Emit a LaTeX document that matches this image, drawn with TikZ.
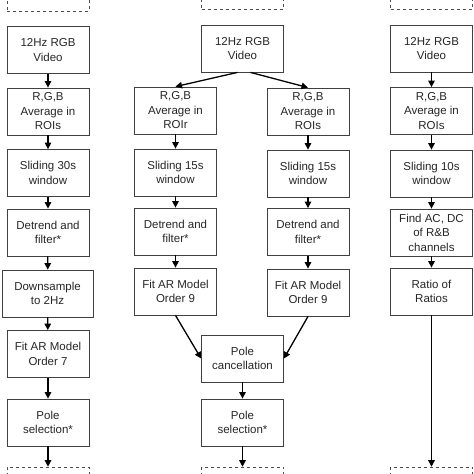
\documentclass[tikz,border=0pt]{standalone}
\usepackage{fontspec}
\setmainfont{Liberation Sans}
\usepackage{tikz}
\usetikzlibrary{positioning,
                arrows.meta}                % arrow tips

\begin{document}
\begin{tikzpicture}[x=1pt, y=-1pt,
    box/.style={draw=black!75, line width=0.8pt, minimum width=82pt, minimum height=47pt,
                align=center, inner sep=1pt, font=\fontsize{11.5}{14.5}\selectfont, text=black!85},
    outbox/.style={draw=black!70, dashed, line width=0.6pt, minimum width=82pt, minimum height=46pt},
    flow/.style={draw=black, line width=1.3pt, -{Triangle[length=6.5pt,width=6.5pt]}},
    ]
    \useasboundingbox (0,0) rectangle (474,474);
    \clip (0,0) rectangle (474,474);

    % left column
    \node[outbox] (intopL) at (48,-12) {};
    \node[box] (vidL) at (48,50) {12Hz RGB\\Video};
    \node[box] (roiL) at (48,111.5) {R,G,B\\Average in\\ROIs};
    \node[box] (slideL) at (48,173) {Sliding 30s\\window};
    \node[box] (detL) at (48,232.5) {Detrend and\\filter*};
    \node[box, minimum width=91pt] (downL) at (47.5,293.5) {Downsample\\to 2Hz};
    \node[box] (fitL) at (48,354) {Fit AR Model\\Order 7};
    \node[box] (poleL) at (48,422.5) {Pole\\selection*};
    \node[outbox] (outL) at (48,490) {};

    % middle column
    \node[outbox] (intopM) at (242.5,-14) {};
    \node[box] (vidM) at (242.5,48.5) {12Hz RGB\\Video};
    \node[box] (roiMr) at (175.5,110.5) {R,G,B\\Average in\\ROIr};
    \node[box] (roiMs) at (308,111.5) {R,G,B\\Average in\\ROIs};
    \node[box] (slideMr) at (175.5,172.5) {Sliding 15s\\window};
    \node[box] (slideMs) at (308,173.5) {Sliding 15s\\window};
    \node[box] (detMr) at (175.5,231.5) {Detrend and\\filter*};
    \node[box] (detMs) at (308,232) {Detrend and\\filter*};
    \node[box] (fitMr) at (175.5,291.5) {Fit AR Model\\Order 9};
    \node[box] (fitMs) at (308,292.5) {Fit AR Model\\Order 9};
    \node[box] (cancM) at (242.5,358.5) {Pole\\cancellation};
    \node[box] (poleM) at (242.5,422.5) {Pole\\selection*};
    \node[outbox] (outM) at (242.5,490) {};

    % right column
    \node[outbox] (intopR) at (431.5,-14) {};
    \node[box] (vidR) at (431.5,48.5) {12Hz RGB\\Video};
    \node[box] (roiR) at (431.5,111) {R,G,B\\Average in\\ROIs};
    \node[box] (slideR) at (431.5,173.5) {Sliding 10s\\window};
    \node[box] (acdcR) at (431.5,232.5) {Find AC, DC\\of R\&B\\channels};
    \node[box] (ratioR) at (431.5,291.5) {Ratio of\\Ratios};
    \node[outbox] (outR) at (431.5,490) {};

    % connectors
    \draw[flow] (vidL) -- (roiL);
    \draw[flow] (roiL) -- (slideL);
    \draw[flow] (slideL) -- (detL);
    \draw[flow] (detL) -- (downL);
    \draw[flow] (downL) -- (fitL);
    \draw[flow] (fitL) -- (poleL);
    \draw[flow] (poleL) -- (outL);

    \draw[flow] ([xshift=-5pt]vidM.south) -- (roiMr.north);
    \draw[flow] ([xshift=8pt]vidM.south) -- (roiMs.north);
    \draw[flow] (roiMr) -- (slideMr);
    \draw[flow] (roiMs) -- (slideMs);
    \draw[flow] (slideMr) -- (detMr);
    \draw[flow] (slideMs) -- (detMs);
    \draw[flow] (detMr) -- (fitMr);
    \draw[flow] (detMs) -- (fitMs);
    \draw[flow] (fitMr.south) -- (cancM.west);
    \draw[flow] (fitMs.south) -- (cancM.east);
    \draw[flow] (cancM) -- (poleM);
    \draw[flow] (poleM) -- (outM);

    \draw[flow] (vidR) -- (roiR);
    \draw[flow] (roiR) -- (slideR);
    \draw[flow] (slideR) -- (acdcR);
    \draw[flow] (acdcR) -- (ratioR);
    \draw[flow] (ratioR) -- (outR);
\end{tikzpicture}
\end{document}
